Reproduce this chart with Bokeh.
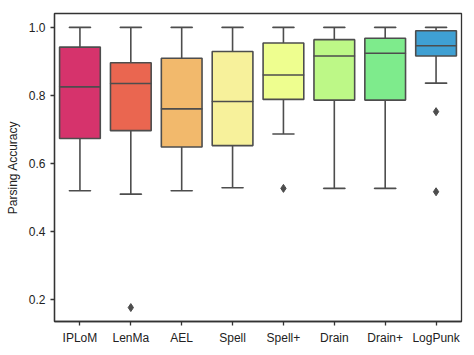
from bokeh.plotting import figure
from bokeh.models import ColumnDataSource, FactorRange, Range1d, FixedTicker, NumeralTickFormatter
from bokeh.embed import file_html
from bokeh.resources import INLINE

parsers = ["IPLoM", "LenMa", "AEL", "Spell", "Spell+", "Drain", "Drain+", "LogPunk"]
whisker_low = [0.519, 0.509, 0.519, 0.528, 0.686, 0.526, 0.526, 0.836]
q1 = [0.673, 0.696, 0.648, 0.652, 0.788, 0.786, 0.786, 0.916]
median = [0.825, 0.835, 0.760, 0.782, 0.860, 0.916, 0.924, 0.946]
q3 = [0.942, 0.896, 0.909, 0.929, 0.954, 0.964, 0.968, 0.990]
whisker_high = [1.0, 1.0, 1.0, 1.0, 1.0, 1.0, 1.0, 1.0]
colors = ["#d6336c", "#ea6650", "#f2b96c", "#f7f19b", "#eefe8f", "#bdf887", "#7eeb8c", "#3fa0d3"]
outlier_parser = ["LenMa", "Spell+", "LogPunk", "LogPunk"]
outlier_value = [0.175, 0.526, 0.752, 0.516]

EDGE = "#4d4d4d"
FONT = "Liberation Sans"

p = figure(x_range=FactorRange(*parsers, range_padding=0), y_range=Range1d(0.134, 1.041),
           frame_width=407, frame_height=308, output_backend="svg", toolbar_location=None,
           min_border_left=54, min_border_right=13, min_border_top=13, min_border_bottom=34)
p.x_range.factor_padding = 0
p.x_range.range_padding = 0

src = ColumnDataSource(dict(x=parsers, lo=whisker_low, q1=q1, med=median, q3=q3,
                            hi=whisker_high, color=colors))

# whiskers
p.segment(x0="x", y0="q3", x1="x", y1="hi", source=src, line_color=EDGE, line_width=1.6)
p.segment(x0="x", y0="lo", x1="x", y1="q1", source=src, line_color=EDGE, line_width=1.6)
# caps
p.rect(x="x", y="hi", width=0.42, height=0.0001, source=src, line_color=EDGE, line_width=1.6, fill_alpha=0)
p.rect(x="x", y="lo", width=0.42, height=0.0001, source=src, line_color=EDGE, line_width=1.6, fill_alpha=0)
# boxes
p.vbar(x="x", bottom="q1", top="q3", width=0.8, source=src, fill_color="color",
       line_color=EDGE, line_width=1.6)
# medians
p.rect(x="x", y="med", width=0.8, height=0.0001, source=src, line_color=EDGE, line_width=1.6, fill_alpha=0)
# outliers
p.scatter(x=outlier_parser, y=outlier_value, marker="diamond", size=8,
          fill_color=EDGE, line_color=EDGE)

p.xgrid.visible = False
p.ygrid.visible = False
p.outline_line_color = "#333333"
p.outline_line_width = 1.3
p.background_fill_color = "white"
p.border_fill_color = "white"

p.yaxis.ticker = FixedTicker(ticks=[0.2, 0.4, 0.6, 0.8, 1.0])
p.yaxis.formatter = NumeralTickFormatter(format="0.0")
p.yaxis.axis_label = "Parsing Accuracy"
for ax in (p.xaxis[0], p.yaxis[0]):
    ax.axis_line_color = "#333333"
    ax.axis_line_width = 1.3
    ax.major_tick_line_color = "#333333"
    ax.major_tick_line_width = 1.3
    ax.major_tick_out = 4
    ax.major_tick_in = 0
    ax.minor_tick_line_color = None
    ax.major_label_text_font = FONT
    ax.major_label_text_font_size = "12px"
    ax.major_label_text_color = "#222222"
    ax.axis_label_text_font = FONT
    ax.axis_label_text_font_size = "12px"
    ax.axis_label_text_font_style = "normal"
    ax.axis_label_text_color = "#222222"
p.yaxis.axis_label_standoff = 6
p.xaxis.major_label_standoff = 5

open("out.html", "w").write(file_html(p, INLINE))
